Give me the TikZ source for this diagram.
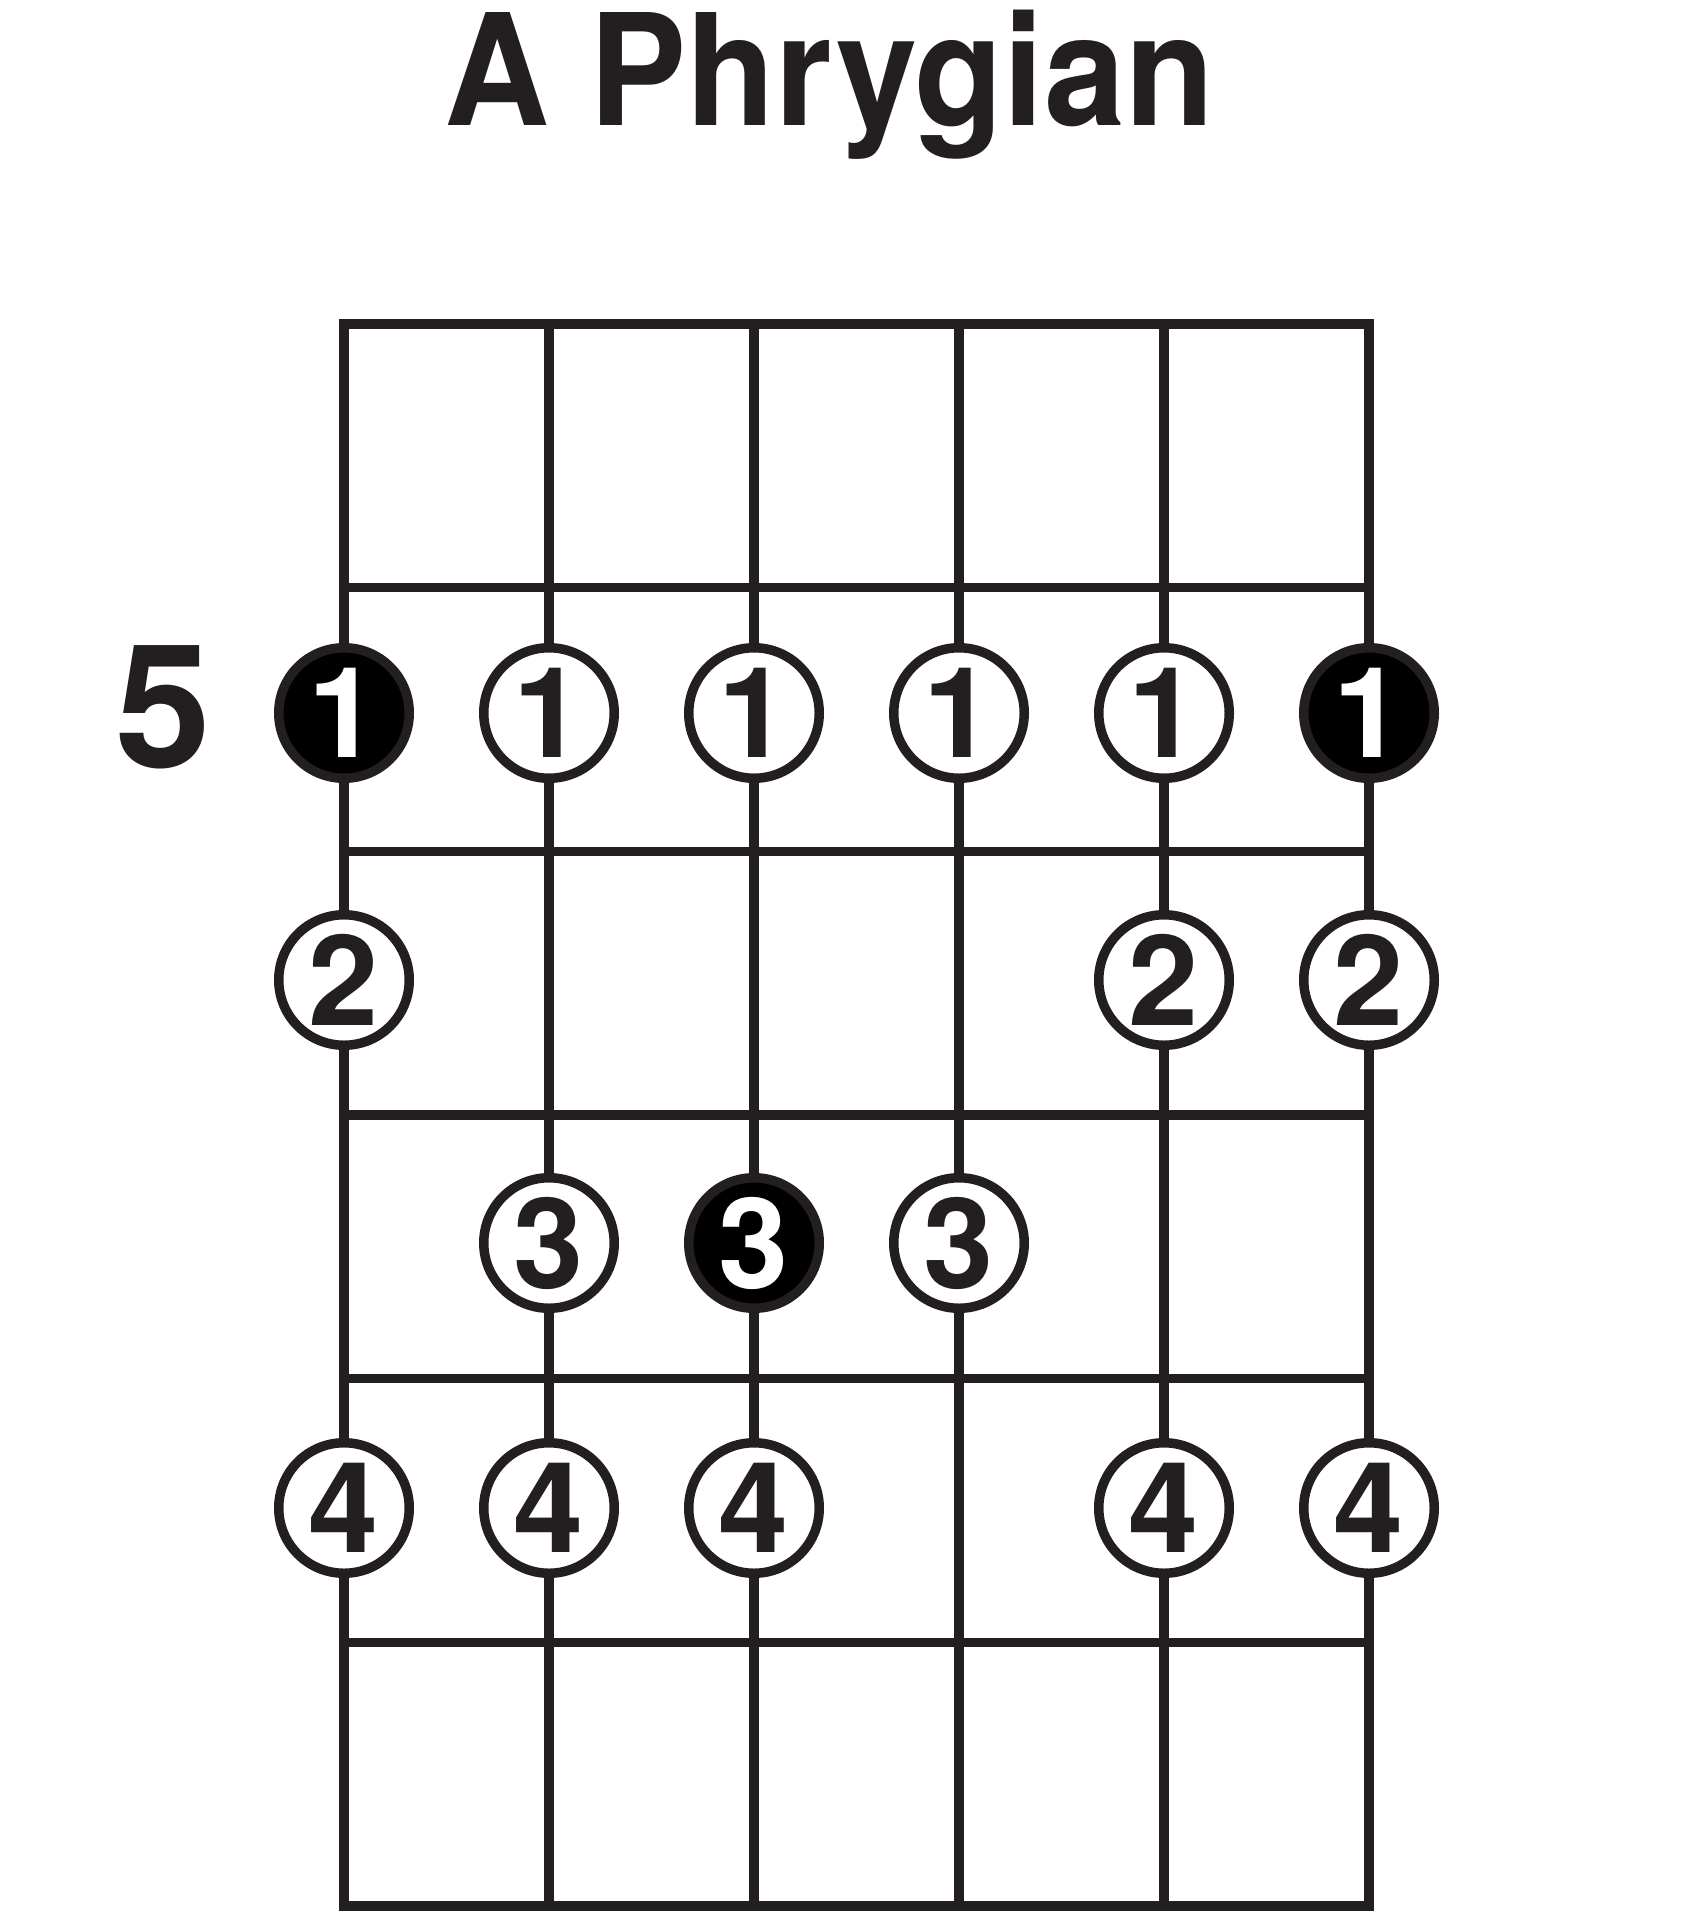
\documentclass[tikz,border=0pt]{standalone}
\usepackage{fontspec}
\setmainfont{TeX Gyre Heros}
\definecolor{ink}{HTML}{231F20}
\begin{document}
\begin{tikzpicture}[x=1pt,y=-1pt,
  gridline/.style={draw=ink,line width=9.5pt,line join=miter,line cap=rect},
  dotbase/.style={circle,draw=ink,line width=9.5pt,minimum size=130.5pt,inner sep=0pt,
    font=\fontsize{126}{126}\selectfont\bfseries},
  opendot/.style={dotbase,fill=white,text=ink},
  rootdot/.style={dotbase,fill=black,text=white}]
\useasboundingbox (0,0) rectangle (1689,1920);
\fill[white] (0,0) rectangle (1689,1920);
% title
\node[anchor=base,text=ink,font=\fontsize{155}{155}\selectfont\bfseries,inner sep=0pt] (title) at (829,125) {\scalebox{0.94}[1]{A Phrygian}};
% grid
\draw[gridline] (344,324) rectangle (1369,1906);
\foreach \x in {549,754,959,1164} \draw[gridline] (\x,324) -- (\x,1906);
\foreach \y in {587.7,851.3,1115,1378.7,1642.3} \draw[gridline] (344,\y) -- (1369,\y);
% fret number
\node[anchor=base,text=ink,font=\fontsize{172}{172}\selectfont\bfseries,inner sep=0pt] (fretnum) at (163,767) {5};
% row 1
\node[rootdot] (a1) at (344,713) {1};
\node[opendot] (a2) at (549,713) {1};
\node[opendot] (a3) at (754,713) {1};
\node[opendot] (a4) at (959,713) {1};
\node[opendot] (a5) at (1164,713) {1};
\node[rootdot] (a6) at (1369,713) {1};
% row 2
\node[opendot] (b1) at (344,980) {2};
\node[opendot] (b5) at (1164,980) {2};
\node[opendot] (b6) at (1369,980) {2};
% row 3
\node[opendot] (c2) at (549,1243) {3};
\node[rootdot] (c3) at (754,1243) {3};
\node[opendot] (c4) at (959,1243) {3};
% row 4
\node[opendot] (d1) at (344,1508) {4};
\node[opendot] (d2) at (549,1508) {4};
\node[opendot] (d3) at (754,1508) {4};
\node[opendot] (d5) at (1164,1508) {4};
\node[opendot] (d6) at (1369,1508) {4};
\end{tikzpicture}
\end{document}
